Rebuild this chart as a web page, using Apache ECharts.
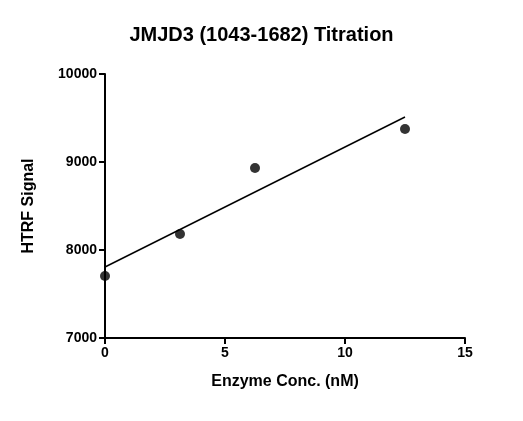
<!DOCTYPE html>
<html><head><meta charset="utf-8">
<script src="https://cdn.jsdelivr.net/npm/echarts@6/dist/echarts.min.js"></script>
<style>html,body{margin:0;padding:0;background:#fff}#c{width:523px;height:421px}</style>
</head><body><div id="c"></div>
<script>
const xPoints = [0, 3.125, 6.25, 12.5];
const yPoints = [7705, 8182, 8932, 9375];
const fitLine = [[0, 7807], [12.5, 9511]];
const chart = echarts.init(document.getElementById('c'));
const F = 'Arial, Liberation Sans';
chart.setOption({
  animation:false,
  title:{text:'JMJD3 (1043-1682) Titration',left:'center',top:20,textStyle:{fontFamily:F,fontWeight:'bold',fontSize:20,color:'#000'}},
  grid:{left:105,right:58,top:74,bottom:83},
  xAxis:{type:'value',min:0,max:15,interval:5,name:'Enzyme Conc. (nM)',nameLocation:'middle',nameGap:36,
    nameTextStyle:{fontFamily:F,fontWeight:'bold',fontSize:16,color:'#000'},
    axisLine:{lineStyle:{color:'#000',width:2}},axisTick:{length:6,lineStyle:{color:'#000',width:2}},splitLine:{show:false},
    axisLabel:{fontFamily:F,fontWeight:'bold',fontSize:14,color:'#000'}},
  yAxis:{type:'value',min:7000,max:10000,interval:1000,name:'HTRF Signal',nameLocation:'middle',nameGap:68,
    nameTextStyle:{fontFamily:F,fontWeight:'bold',fontSize:16,color:'#000'},
    axisLine:{show:true,lineStyle:{color:'#000',width:2}},axisTick:{show:true,length:6,lineStyle:{color:'#000',width:2}},splitLine:{show:false},
    axisLabel:{fontFamily:F,fontWeight:'bold',fontSize:14,color:'#000',formatter:v=>String(v)}},
  series:[
    {type:'scatter',data:xPoints.map((x,i)=>[x,yPoints[i]]),symbolSize:10,itemStyle:{color:'#000'}},
    {type:'line',data:fitLine,symbol:'none',lineStyle:{color:'#000',width:1.5}}
  ]
});
</script></body></html>
